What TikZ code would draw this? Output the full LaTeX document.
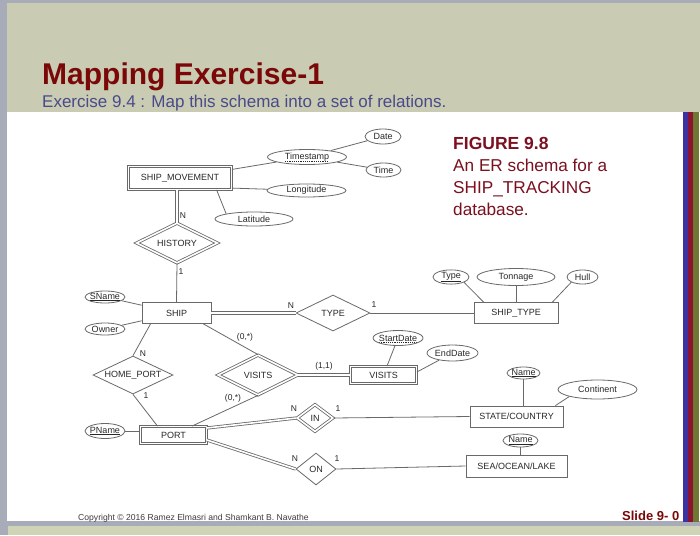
\documentclass[tikz,border=0pt]{standalone}
\usepackage{fontspec}
\setmainfont{Liberation Sans}
\usetikzlibrary{shapes.geometric}
\definecolor{hdr}{RGB}{201,203,178}
\definecolor{frm}{RGB}{168,172,184}
\definecolor{botb}{RGB}{208,212,182}
\definecolor{ttl}{RGB}{122,8,8}
\definecolor{subc}{RGB}{74,74,138}
\definecolor{capc}{RGB}{122,16,32}
\definecolor{lnc}{RGB}{105,105,105}
\definecolor{txc}{RGB}{40,40,40}
\definecolor{sbl}{RGB}{60,50,160}
\definecolor{srd}{RGB}{140,20,50}
\definecolor{sgr}{RGB}{110,120,50}
\newcommand{\zw}[1]{\makebox[0pt]{#1}}
\begin{document}
\begin{tikzpicture}[x=1pt,y=-1pt,
 every node/.style={font=\fontsize{9}{10}\selectfont, text=txc},
 ent/.style={draw=lnc, line width=0.8pt, rectangle, inner sep=0pt},
 went/.style={ent, double, double distance=1.6pt},
 attr/.style={draw=lnc, line width=0.8pt, ellipse, inner sep=0pt},
 rel/.style={draw=lnc, line width=0.8pt, diamond, inner sep=0pt},
 wrel/.style={rel, double, double distance=1.6pt},
 lnk/.style={draw=lnc, line width=0.8pt},
 dlnk/.style={lnk, double, double distance=1.6pt},
 dashul/.style={path picture={\draw[txc, line width=0.5pt, dash pattern=on 1.2pt off 1pt] ([xshift=-#1,yshift=-4pt]path picture bounding box.center) -- ([xshift=#1,yshift=-4pt]path picture bounding box.center);}},
 card/.style={font=\fontsize{8.5}{9}\selectfont, inner sep=0pt}]
\useasboundingbox (0,0) rectangle (700,535);
% background
\fill[frm] (0,0) rectangle (700,535);
\fill[hdr] (7,3) rectangle (700,112);
\fill[white] (7,112) rectangle (683,521);
\fill[sbl] (683,112) rectangle (688,522);
\fill[srd] (688,112) rectangle (693,522);
\fill[sgr] (693,112) rectangle (699,522);
\fill[white] (699,112) rectangle (700,521);
\fill[botb] (8,526) rectangle (700,535);
% header
\node[anchor=base west, inner sep=0, text=ttl, font=\fontsize{30}{31}\selectfont\bfseries] (title) at (42,84) {Mapping Exercise-1};
\node[anchor=base west, inner sep=0, text=subc, font=\fontsize{17}{18}\selectfont] (subtitle) at (42,107.5) {Exercise 9.4 : Map this schema into a set of relations.};
\node[anchor=base west, inner sep=0, text=capc, font=\fontsize{17.5}{20}\selectfont\bfseries] (cap1) at (453,149) {FIGURE 9.8};
\node[anchor=base west, inner sep=0, text=capc, font=\fontsize{17.2}{20}\selectfont] (cap2) at (453,171) {An ER schema for a};
\node[anchor=base west, inner sep=0, text=capc, font=\fontsize{17.2}{20}\selectfont] (cap3) at (453,193) {SHIP\_TRACKING};
\node[anchor=base west, inner sep=0, text=capc, font=\fontsize{17.2}{20}\selectfont] (cap4) at (453,215) {database.};
\node[anchor=base west, inner sep=0, text={rgb,255:red,60;green,60;blue,60}, font=\fontsize{8.6}{9}\selectfont] (copy) at (78,520) {Copyright \textcopyright{} 2016 Ramez Elmasri and Shamkant B. Navathe};
\node[anchor=base west, inner sep=0, text=ttl, font=\fontsize{13}{14}\selectfont\bfseries] (slide) at (622,520) {Slide 9- 0};
% entities
\node[went, minimum width=103, minimum height=23] (sm) at (180,178) {SHIP\_MOVEMENT};
\node[ent, minimum width=69, minimum height=21] (ship) at (176.5,313) {SHIP};
\node[ent, minimum width=84, minimum height=21] (stype) at (516,313) {SHIP\_TYPE};
\node[went, minimum width=66, minimum height=17] (visE) at (383.5,375) {VISITS};
\node[went, minimum width=66, minimum height=17] (port) at (173.5,435) {PORT};
\node[ent, minimum width=93, minimum height=21] (sc) at (516.5,416.5) {STATE/COUNTRY};
\node[ent, minimum width=101, minimum height=22] (sea) at (516.5,466) {SEA/OCEAN/LAKE};
% relationships
\node[wrel, minimum width=81, minimum height=40] (hist) at (177,243) {\zw{HISTORY}};
\node[rel, minimum width=74, minimum height=36] (type) at (333,313) {\zw{TYPE}};
\node[rel, minimum width=80, minimum height=38] (hp) at (133,375) {\zw{HOME\_PORT}};
\node[wrel, minimum width=80, minimum height=40] (vis) at (258,375) {\zw{VISITS}};
\node[wrel, minimum width=36, minimum height=27] (in) at (315,418) {\zw{IN}};
\node[rel, minimum width=40, minimum height=32] (on) at (316,469) {\zw{ON}};
% attributes
\node[attr, minimum width=79, minimum height=15, dashul=22pt] (ts) at (307,157) {\zw{Timestamp}};
\node[attr, minimum width=36, minimum height=15] (date) at (383,136.5) {\zw{Date}};
\node[attr, minimum width=35, minimum height=14] (time) at (383.5,170) {\zw{Time}};
\node[attr, minimum width=79, minimum height=13] (lon) at (306.5,190.5) {\zw{Longitude}};
\node[attr, minimum width=78, minimum height=14] (lat) at (254,219) {\zw{Latitude}};
\node[attr, minimum width=40, minimum height=12] (sname) at (105,297) {\zw{\underline{SName}}};
\node[attr, minimum width=40, minimum height=12] (owner) at (105,329) {\zw{Owner}};
\node[attr, minimum width=40, minimum height=15] (pname) at (105,431) {\zw{\underline{PName}}};
\node[attr, minimum width=36, minimum height=13] (ttype) at (451,277) {\zw{\underline{Type}}};
\node[attr, minimum width=78, minimum height=17] (ton) at (516,277) {\zw{Tonnage}};
\node[attr, minimum width=31, minimum height=14] (hull) at (582.5,277) {\zw{Hull}};
\node[attr, minimum width=50, minimum height=15, dashul=19pt] (sd) at (398,338) {\zw{StartDate}};
\node[attr, minimum width=51, minimum height=16] (ed) at (452.5,353) {\zw{EndDate}};
\node[attr, minimum width=33, minimum height=12] (n1) at (523.5,373) {\zw{\underline{Name}}};
\node[attr, minimum width=79, minimum height=19] (cont) at (597.5,389.5) {\zw{Continent}};
\node[attr, minimum width=35, minimum height=13] (n2) at (520.5,440.5) {\zw{\underline{Name}}};
% attribute links
\draw[lnk] (sm) -- (ts);
\draw[lnk] (ts) -- (date);
\draw[lnk] (ts) -- (time);
\draw[lnk] (sm.-11) -- (lon);
\draw[lnk] (sm.-18) -- (lat.north west);
\draw[lnk] (ship) -- (sname);
\draw[lnk] (ship) -- (owner);
\draw[lnk] (pname.east) -- (pname.east -| port.west);
\draw[lnk] ([xshift=10pt]stype.north west) -- (ttype.south east);
\draw[lnk] (ton.south) -- (stype.north);
\draw[lnk] (hull.south west) -- ([xshift=-6pt]stype.north east);
\draw[lnk] (sd) -- (visE);
\draw[lnk] (ed) -- ([yshift=3pt]visE.east);
\draw[lnk] (n1.south) -- (n1.south |- sc.north);
\draw[lnk] (cont.south west) -- ([xshift=-8pt]sc.north east);
\draw[lnk] (n2.south) -- (n2.south |- sea.north);
% relationship links
\draw[dlnk] (sm.south -| hist.north) -- (hist.north);
\draw[lnk] (hist.south) -- (ship.north);
\draw[dlnk] (ship.east) -- (type.west);
\draw[lnk] (type.east) -- (stype.west);
\draw[lnk] ([xshift=-8pt]ship.south east) -- (vis.north);
\draw[dlnk] (vis.east) -- (visE.west);
\draw[lnk] (vis.south) -- ([xshift=-15pt]port.north east);
\draw[lnk] ([xshift=-26pt]ship.south) -- (hp.north);
\draw[lnk] (hp.south) -- ([xshift=-16pt]port.north);
\draw[dlnk] ([yshift=7pt]port.east) -- (in.west);
\draw[dlnk] ([yshift=-5pt]port.east) -- (on.west);
\draw[lnk] (in.east) -- (sc.west);
\draw[lnk] (on.east) -- (sea.west);
% cardinalities
\node[card] (c1) at (183,216) {N};
\node[card] (c2) at (181,272) {1};
\node[card] (c3) at (291,306) {N};
\node[card] (c4) at (374,305) {1};
\node[card] (c5) at (245,337) {(0,*)};
\node[card] (c6) at (324,366) {(1,1)};
\node[card] (c7) at (143,354) {N};
\node[card] (c8) at (146,396) {1};
\node[card] (c9) at (233,398) {(0,*)};
\node[card] (c10) at (294,409) {N};
\node[card] (c11) at (338,409) {1};
\node[card] (c12) at (295,459) {N};
\node[card] (c13) at (337,459) {1};
\end{tikzpicture}
\end{document}
